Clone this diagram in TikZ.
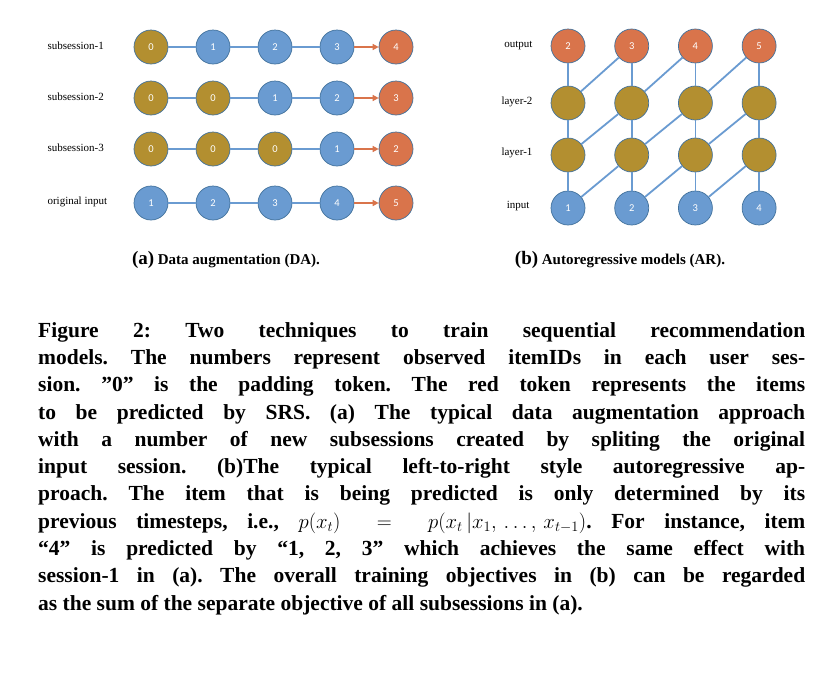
\documentclass[tikz,border=0pt]{standalone}
\usepackage{fontspec}
\setmainfont{Liberation Serif}
\newfontfamily\calib{Carlito}
\usetikzlibrary{arrows.meta}
\definecolor{gold}{HTML}{B38F30}
\definecolor{blu}{HTML}{6A9BD1}
\definecolor{blustroke}{HTML}{41719C}
\definecolor{org}{HTML}{D9744B}
\tikzset{
 tok/.style={circle,minimum size=34pt,inner sep=0,draw=blustroke,line width=0.7pt,text=white,font=\calib\fontsize{10.5}{10.5}\selectfont},
 pad/.style={tok,fill=gold},
 itm/.style={tok,fill=blu},
 tgt/.style={tok,fill=org},
 lnk/.style={draw=blu,line width=1.8pt},
 arr/.style={draw=org,line width=1.8pt,-{Triangle[length=6pt,width=6pt]}},
 lab/.style={font=\fontsize{11}{13}\selectfont},
 subcap/.style={font=\bfseries\fontsize{15}{18}\selectfont},
}
\begin{document}
\begin{tikzpicture}[x=1pt,y=-1pt]
\useasboundingbox (0,0) rectangle (820,678);
\fill[white] (0,0) rectangle (820,678);
% (a)
\def\xs{{151,213,275,337,396}}
\node[lab,anchor=west] (l1) at (44,46) {subsession-1};
\node[lab,anchor=west] (l2) at (44,97) {subsession-2};
\node[lab,anchor=west] (l3) at (44,148) {subsession-3};
\node[lab,anchor=west] (l4) at (44,202) {original input};
\foreach \r/\y/\s in {1/47/{pad/0,itm/1,itm/2,itm/3,tgt/4},2/98/{pad/0,pad/0,itm/1,itm/2,tgt/3},3/149/{pad/0,pad/0,pad/0,itm/1,tgt/2},4/203/{itm/1,itm/2,itm/3,itm/4,tgt/5}}{
 \foreach \st/\t [count=\c] in \s {
  \pgfmathsetmacro\xx{\xs[\c-1]}
  \node[\st] (a\r\c) at (\xx,\y) {\t};
 }
 \draw[lnk] (a\r1)--(a\r2) (a\r2)--(a\r3) (a\r3)--(a\r4);
 \draw[arr] (a\r4)--(a\r5);
}
\node[subcap] (ca) at (226,260) {{\fontsize{19}{19}\selectfont(a)} Data augmentation (DA).};
% (b)
\node[lab,anchor=east] (o) at (536,46) {output};
\node[lab,anchor=east] (y2) at (536,102) {layer-2};
\node[lab,anchor=east] (y1) at (536,153) {layer-1};
\node[lab,anchor=east] (in) at (533,206) {input};
\foreach \t [count=\c] in {2,3,4,5}{
 \pgfmathsetmacro\xx{568+63.7*(\c-1)}
 \node[tgt] (o\c) at (\xx,46) {\t};
 \node[pad] (p\c) at (\xx,103) {};
 \node[pad] (q\c) at (\xx,155) {};
 \node[itm] (i\c) at (\xx,208) {\c};
}
\foreach \c in {1,2,3,4}{
 \draw[lnk] (i\c.north)--(q\c.south);
 \draw[lnk] (q\c.north)--(p\c.south);
 \draw[lnk] (p\c.north)--(o\c.south);
}
\foreach \c/\d in {1/2,2/3,3/4}{
 \draw[lnk] (i\c)--(q\d) (q\c)--(p\d) (p\c)--(o\d);
}
\node[subcap] (cb) at (620,260) {{\fontsize{19}{19}\selectfont(b)} Autoregressive models (AR).};
% caption
\node[anchor=north west,inner sep=0,text width=767pt,align=justify,font=\bfseries\fontsize{21.5}{27.3}\selectfont] (cap) at (38,322) {\frenchspacing
Figure 2: Two techniques to train sequential recommendation\linebreak
models. The numbers represent observed itemIDs in each user ses-\linebreak
sion. \char"22 0\char"22{} is the padding token. The red token represents the items\linebreak
to be predicted by SRS. (a) The typical data augmentation approach\linebreak
with a number of new subsessions created by spliting the original\linebreak
input session. (b)The typical left-to-right style autoregressive ap-\linebreak
proach. The item that is being predicted is only determined by its\linebreak
previous timesteps, i.e., $p(x_t)=p(x_t\,|x_1,\,\ldots,\,x_{t-1})$. For instance, item\linebreak
“4” is predicted by “1, 2, 3” which achieves the same effect with\linebreak
session-1 in (a). The overall training objectives in (b) can be regarded\linebreak
as the sum of the separate objective of all subsessions in (a).};
\end{tikzpicture}
\end{document}
